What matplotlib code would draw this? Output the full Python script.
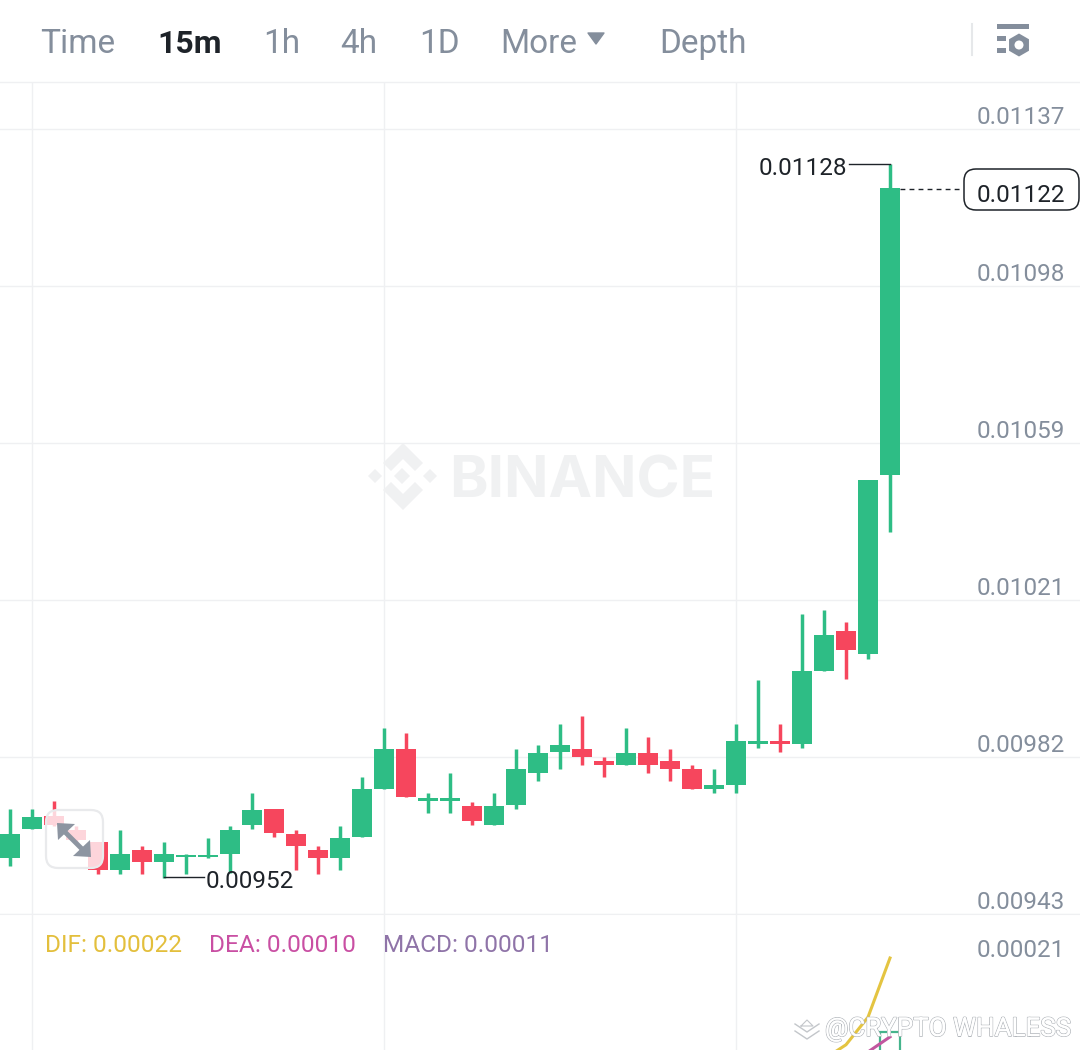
import matplotlib
matplotlib.use('Agg')
import matplotlib.pyplot as plt
from matplotlib.patches import FancyBboxPatch, Polygon, Circle, RegularPolygon
import matplotlib.patheffects as pe

plt.rcParams['font.family'] = ['Roboto', 'DejaVu Sans']

# candles, in price units of 0.001
opens = [9.569, 9.640, 9.672, 9.638, 9.608, 9.539, 9.588, 9.559, 9.571, 9.571, 9.578,
         9.650, 9.690, 9.628, 9.588, 9.569, 9.620, 9.739, 9.838, 9.710, 9.710, 9.697,
         9.650, 9.700, 9.779, 9.831, 9.838, 9.809, 9.799, 9.828, 9.809, 9.789, 9.739,
         9.749, 9.851, 9.858, 9.851, 10.031, 10.130, 10.071, 10.514]
closes = [9.628, 9.670, 9.650, 9.613, 9.539, 9.578, 9.559, 9.578, 9.576, 9.576, 9.638,
          9.687, 9.630, 9.598, 9.569, 9.618, 9.739, 9.838, 9.719, 9.717, 9.717, 9.660,
          9.697, 9.789, 9.828, 9.848, 9.818, 9.799, 9.828, 9.799, 9.789, 9.739, 9.749,
          9.858, 9.858, 9.851, 10.029, 10.120, 10.081, 10.501, 11.224]
highs = [9.690, 9.690, 9.710, 9.648, 9.608, 9.638, 9.598, 9.608, 9.578, 9.618, 9.648,
         9.729, 9.690, 9.638, 9.598, 9.648, 9.769, 9.890, 9.878, 9.729, 9.779, 9.707,
         9.729, 9.838, 9.848, 9.900, 9.920, 9.818, 9.890, 9.868, 9.838, 9.799, 9.789,
         9.900, 10.009, 9.900, 10.170, 10.180, 10.150, 10.501, 11.283]
lows = [9.549, 9.640, 9.648, 9.608, 9.529, 9.529, 9.529, 9.519, 9.529, 9.569, 9.531,
        9.640, 9.620, 9.539, 9.529, 9.539, 9.620, 9.739, 9.719, 9.680, 9.680, 9.650,
        9.650, 9.690, 9.759, 9.789, 9.799, 9.769, 9.799, 9.779, 9.759, 9.739, 9.729,
        9.729, 9.841, 9.831, 9.841, 10.031, 10.011, 10.061, 10.373]

price_ticks = [0.009430, 0.009818, 0.010206, 0.010594, 0.010982, 0.011370]
high_label = 0.01128
low_label = 0.00952
last_price = 0.01122

# macd panel, only the right end shows
dif_idx = [37, 38, 39, 40]
dif_vals = [0.000066, 0.000088, 0.000130, 0.000220]
dea_idx = [39, 40]
dea_vals = [0.000077, 0.000100]
hist_idx = [40]
hist_vals = [0.000108]
macd_tick = 0.00021

menu_items = ['Time', '15m', '1h', '4h', '1D', 'More', 'Depth']
menu_x = [40, 157, 263, 340, 419, 500, 659]

GREEN = '#2ebd85'
RED = '#f6465d'
GRID = '#eff0f2'
GRAY = '#848e9c'
DARK = '#1e2329'
MARK = '#f0f1f2'
W, H = 1080, 1050


def idx_from_px(px):
    return (px - 10) / 22


fig = plt.figure(figsize=(W / 100, H / 100), dpi=100, facecolor='white')

# main price panel: y 82..914 px
ax = fig.add_axes([0, (H - 914) / H, 1, (914 - 82) / H])
ax.set_xlim(idx_from_px(0), idx_from_px(W))
ax.set_ylim(0.00943, 0.011485)
for s in ax.spines.values():
    s.set_visible(False)
ax.spines['bottom'].set_visible(True)
ax.spines['bottom'].set_color(GRID)
ax.set_xticks([1, 17, 33])
ax.set_yticks(price_ticks)
ax.tick_params(left=False, bottom=False, labelleft=False, labelbottom=False)
ax.grid(True, color=GRID, lw=1.0)
ax.set_axisbelow(True)
trans = ax.get_yaxis_transform()
for t in price_ticks:
    ax.annotate(f'{t:.5f}', (1, t), xycoords=trans, xytext=(-15, 11), textcoords='offset pixels',
                ha='right', va='center', fontsize=17.5, color=GRAY)

# Binance watermark goes under the candles
ax.text(idx_from_px(449), 0.010495, 'BINANCE', fontsize=42, fontweight='bold', family='Inter',
        color=MARK, va='center', ha='left', zorder=1)

for i in range(len(opens)):
    o, c = opens[i] / 1000, closes[i] / 1000
    col = GREEN if c >= o else RED
    ax.vlines(i, lows[i] / 1000, highs[i] / 1000, color=col, lw=2.5, zorder=3)
    ax.bar(i, abs(c - o), bottom=min(o, c), width=0.89, color=col, lw=0, zorder=3)

# high / low / last price labels
hi_i = len(opens) - 1
ax.plot([hi_i - 1.86, hi_i], [high_label + 0.000002] * 2, color=DARK, lw=1, zorder=4)
ax.text(hi_i - 1.95, high_label - 0.000008, f'{high_label:.5f}', ha='right', va='center',
        fontsize=17.5, color=DARK)
ax.plot([7, 8.8], [low_label + 0.000001] * 2, color=DARK, lw=1, zorder=4)
ax.text(8.88, low_label - 0.00001, f'{low_label:.5f}', ha='left', va='center', fontsize=17.5, color=DARK)
ax.plot([idx_from_px(900), idx_from_px(962)], [last_price] * 2, color=DARK, lw=1, ls=(0, (3.5, 3)), zorder=4)

# macd panel: y 914..1050 px
ax2 = fig.add_axes([0, 0, 1, (H - 914) / H])
ax2.set_xlim(ax.get_xlim())
ax2.set_ylim(0.000080, 0.000287)
ax2.patch.set_alpha(0)
for s in ax2.spines.values():
    s.set_visible(False)
ax2.set_xticks([1, 17, 33])
ax2.set_yticks([])
ax2.tick_params(bottom=False, labelbottom=False)
ax2.grid(True, axis='x', color=GRID, lw=1.0)
ax2.set_axisbelow(True)
ax2.plot(dif_idx, dif_vals, color='#e4c441', lw=2.2)
ax2.plot(dea_idx, dea_vals, color='#c2569f', lw=2.2)
ax2.bar(hist_idx, hist_vals, width=0.89, facecolor='none', edgecolor='#45b48c', lw=1.6)
ax2.annotate(f'{macd_tick:.5f}', (1, 0.000231), xycoords=ax2.get_yaxis_transform(), xytext=(-15, 0),
             textcoords='offset pixels', ha='right', va='center', fontsize=17.5, color=GRAY)

# everything else is page chrome, drawn in pixel coordinates
ov = fig.add_axes([0, 0, 1, 1])
ov.set_xlim(0, W)
ov.set_ylim(H, 0)
ov.axis('off')
ov.patch.set_alpha(0)

for name, x in zip(menu_items, menu_x):
    active = name == '15m'
    ov.text(x, 44, name, fontsize=23 if active else 24, ha='left', va='center',
            color=DARK if active else GRAY, fontweight='bold' if active else 'normal')
ov.add_patch(Polygon([[588, 33], [604, 33], [596, 44]], closed=True, fc=GRAY, ec=GRAY, lw=1, joinstyle='round'))
ov.plot([0, W], [82, 82], color=GRID, lw=1)
ov.plot([972, 972], [24, 55], color='#e6e8ea', lw=1.5)
ov.add_patch(plt.Rectangle((997, 24), 32, 5, fc=GRAY, lw=0))
ov.add_patch(plt.Rectangle((997, 36), 9, 5, fc=GRAY, lw=0))
ov.add_patch(plt.Rectangle((997, 48), 9, 5, fc=GRAY, lw=0))
ov.add_patch(RegularPolygon((1019, 45), 6, radius=11.5, fc=GRAY, lw=0))
ov.add_patch(Circle((1019, 45), 4.5, fc='white', lw=0))

# current price box
ov.add_patch(FancyBboxPatch((971, 176), 101, 27, boxstyle='round,pad=7,rounding_size=12',
                            fc='white', ec=DARK, lw=1.1, zorder=5))
ov.text(1021, 196, f'{last_price:.5f}', ha='center', va='center', fontsize=17.5, color=DARK, zorder=6)

# Binance logo
logo = [(402, 476, 8), (375, 476, 7), (430, 476, 7)]
for cx, cy, r in logo:
    ov.add_patch(Polygon([[cx - r, cy], [cx, cy - r], [cx + r, cy], [cx, cy + r]], fc=MARK, lw=0, zorder=1))
ov.add_patch(Polygon([[403, 443], [423, 463], [415, 471], [403, 459], [391, 471], [383, 463]], fc=MARK, lw=0))
ov.add_patch(Polygon([[403, 510], [423, 490], [415, 482], [403, 494], [391, 482], [383, 490]], fc=MARK, lw=0))

# expand button
ov.add_patch(FancyBboxPatch((56, 820), 37, 38, boxstyle='round,pad=10,rounding_size=12',
                            fc=(1, 1, 1, 0.78), ec='#e9eaec', lw=1.6, zorder=5))
ov.plot([62, 84], [829, 851], color='#8d95a1', lw=3.5, zorder=6)
ov.add_patch(Polygon([[57, 823], [75, 824], [58, 840]], fc='#8d95a1', lw=0, zorder=6))
ov.add_patch(Polygon([[91, 857], [73, 856], [90, 840]], fc='#8d95a1', lw=0, zorder=6))

# macd legend
ov.text(45, 946, 'DIF: 0.00022', fontsize=17.6, color='#e3bf3c', va='center')
ov.text(209, 946, 'DEA: 0.00010', fontsize=17.6, color='#c94fa3', va='center')
ov.text(383, 946, 'MACD: 0.00011', fontsize=17.6, color='#8f74a8', va='center')

# poster watermark
wm = ov.text(825, 1029, '@CRYPTO WHALESS', fontsize=18.7, color='white', va='center', zorder=7)
wm.set_path_effects([pe.withStroke(linewidth=1.1, foreground='#b3b7bc'), pe.Normal()])
for yy in (1021, 1028):
    ov.plot([795, 807, 819], [yy + 3, yy + 11, yy + 3], color='#c3c6ca', lw=1, zorder=7)
ov.plot([801, 807, 813, 807, 801], [1026, 1020, 1026, 1026, 1026], color='#c3c6ca', lw=0.8, zorder=7)

fig.savefig('out.png', dpi=100)
